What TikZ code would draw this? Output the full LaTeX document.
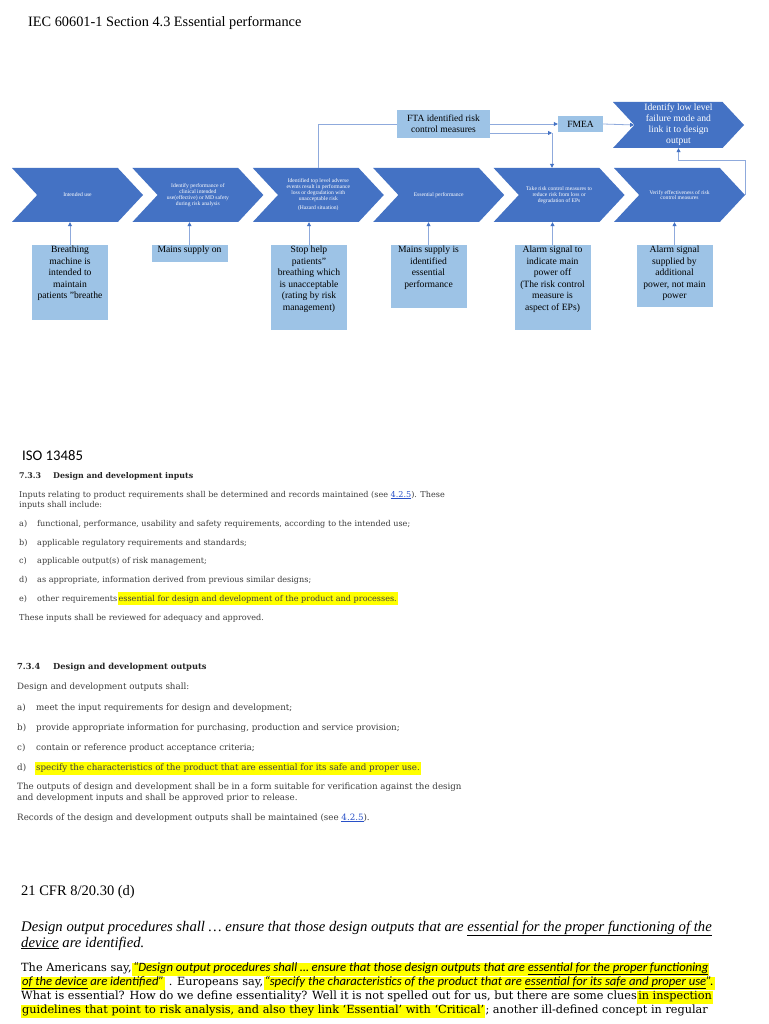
\documentclass[tikz,border=0pt]{standalone}
\usepackage{fontspec}
\setmainfont{Liberation Serif}
\newfontfamily\calibfont{Carlito}
\newfontfamily\camfont{DejaVu Serif}
\usetikzlibrary{arrows.meta,shapes.symbols}
\definecolor{epdark}{RGB}{68,114,196}
\definecolor{eplight}{RGB}{157,195,230}
\definecolor{epline}{RGB}{143,170,220}
\definecolor{hlyellow}{RGB}{255,255,0}
\definecolor{isotext}{RGB}{60,60,60}
\definecolor{isolink}{RGB}{40,80,200}
\newcommand{\boxtxt}[2]{\parbox[t][#1][t]{74pt}{\centering #2}}

\begin{document}
\begin{tikzpicture}[
    x=1pt, y=-1pt,
    >={Triangle[length=4pt, width=4pt, color=epdark]},
    link/.style={draw=epline, line width=0.8pt},
    chev/.style={signal, signal to=east, signal from=west, signal pointer angle=94,
      fill=epdark, text=white, inner sep=0pt, minimum width=131pt, minimum height=54pt,
      align=center, font=\fontsize{5.6}{5.8}\selectfont},
    ebox/.style={fill=eplight, inner sep=1pt, font=\fontsize{9.6}{11.5}\selectfont},
    txt/.style={anchor=base west, inner sep=0pt},
    iso/.style={txt, text=isotext, font=\camfont\fontsize{8.1}{10}\selectfont},
    isotwo/.style={txt, text=isotext, font=\camfont\fontsize{8.7}{11}\selectfont},
    isob/.style={txt, text=black!85, font=\camfont\bfseries\fontsize{7.9}{10}\selectfont},
    cfr/.style={txt, font=\camfont\fontsize{11.3}{14}\selectfont},
    cfri/.style={txt, font=\itshape\fontsize{14.7}{16}\selectfont},
    qt/.style={font=\calibfont\itshape\fontsize{12.7}{14}\selectfont},
    hl/.style={txt, fill=hlyellow, inner xsep=1pt, inner ysep=1.5pt, text height=7.5pt, text depth=2.5pt},
  ]
  \useasboundingbox[fill=white] (0,0) rectangle (768,1024);

  %% ---------------- title ----------------
  \node[txt, font=\fontsize{14.3}{16}\selectfont] (title) at (28,27)
    {IEC 60601-1 Section 4.3 Essential performance};

  %% ---------------- process chevrons ----------------
  \foreach \i/\txt in {1/{Intended use},
      2/{Identify performance of\\clinical intended\\use(effective) or MD safety\\during risk analysis},
      3/{Identified top level adverse\\events result in performance\\loss or degradation with\\unacceptable risk\\[4pt](Hazard situation)},
      4/{Essential performance},
      5/{Take risk control measures to\\reduce risk from loss or\\degradation of EPs},
      6/{Verify effectiveness of risk\\control measures}} {
    \node[chev] (c\i) at ({77.5+120.4*(\i-1)},195) {\txt};
  }
  \node[chev, minimum height=46pt, font=\fontsize{9.6}{11}\selectfont] (ident) at (678.5,125)
    {Identify low level\\failure mode and\\link it to design\\output};

  \node[ebox, align=center, minimum width=93pt, minimum height=28pt, font=\fontsize{9.5}{11}\selectfont] (fta) at (443.5,124)
    {FTA identified risk\\control measures};
  \node[ebox, minimum width=45pt, minimum height=16pt, font=\fontsize{9.5}{11}\selectfont] (fmea) at (580.5,124) {FMEA};

  %% ---------------- examples under each step ----------------
  \foreach \i/\x/\h/\txt in {1/70/73pt/{Breathing\\machine is\\intended to\\maintain\\patients ”breathe},
      2/189.5/15pt/{Mains supply on},
      3/309/83pt/{Stop help\\patients”\\breathing which\\is unacceptable\\(rating by risk\\management)},
      4/428.5/61pt/{Mains supply is\\identified\\essential\\performance},
      5/552.5/83pt/{Alarm signal to\\indicate main\\power off\\(The risk control\\measure is\\aspect of EPs)},
      6/674.5/60pt/{Alarm signal\\supplied by\\additional\\power, not main\\power}} {
    \node[ebox, anchor=north] (b\i) at (\x,245) {\boxtxt{\h}{\txt}};
    \draw[link,->] (b\i.north) -- (b\i.north |- c\i.south);
  }

  %% ---------------- links between the steps ----------------
  \draw[link] (c3.north) |- (fta.west);
  \draw[link,->] (fta.east) -- (fmea.west);
  \coordinate (tap) at (552,133);
  \draw[link,->] ([yshift=-9pt]fta.east) -- (tap);
  \draw[link,->] (tap) -- (tap |- c5.north);
  \draw[link,->] (fmea.east) -- (ident.west);
  \draw[link,->] (c6.east) -- ++(0,-35) -| (ident.south);

  %% ---------------- ISO 13485 ----------------
  \node[txt, font=\calibfont\fontsize{14.7}{16}\selectfont] (iso) at (22,460) {ISO 13485};
  \node[isob] (s733n) at (19,478) {7.3.3};
  \node[isob] (s733) at (53,478) {Design and development inputs};
  \node[iso] (in1) at (19,497)
    {Inputs relating to product requirements shall be determined and records maintained (see \textcolor{isolink}{\underline{4.2.5}}). These};
  \node[iso] (in2) at (19,507) {inputs shall include:};
  \foreach \y/\lbl/\txt in {526/a)/{functional, performance, usability and safety requirements, according to the intended use;},
      545/b)/{applicable regulatory requirements and standards;},
      563/c)/{applicable output(s) of risk management;},
      582/d)/{as appropriate, information derived from previous similar designs;}} {
    \node[iso] (il\y) at (19,\y) {\lbl};
    \node[iso] (it\y) at (37,\y) {\txt};
  }
  \node[iso] (il601) at (19,601) {e)};
  \node[iso] (it601) at (37,601) {other requirements\ };
  \node[iso, hl] (hl601) at (it601.base east)
    {essential for design and development of the product and processes.};
  \node[iso] (in3) at (19,620) {These inputs shall be reviewed for adequacy and approved.};

  \node[isob, font=\camfont\bfseries\fontsize{8.3}{10}\selectfont] (s734n) at (17,669) {7.3.4};
  \node[isob, font=\camfont\bfseries\fontsize{8.3}{10}\selectfont] (s734) at (53,669) {Design and development outputs};
  \node[isotwo] (out1) at (17,689) {Design and development outputs shall:};
  \foreach \y/\lbl/\txt in {710/a)/{meet the input requirements for design and development;},
      730/b)/{provide appropriate information for purchasing, production and service provision;},
      750/c)/{contain or reference product acceptance criteria;}} {
    \node[isotwo] (ol\y) at (17,\y) {\lbl};
    \node[isotwo] (ot\y) at (36,\y) {\txt};
  }
  \node[isotwo] (ol770) at (17,770) {d)};
  \node[isotwo, hl, text height=6.5pt, text depth=3.5pt] (oh770) at (35,770)
    {specify the characteristics of the product that are essential for its safe and proper use.};
  \node[isotwo] (out2) at (17,789)
    {The outputs of design and development shall be in a form suitable for verification against the design};
  \node[isotwo] (out3) at (17,800) {and development inputs and shall be approved prior to release.};
  \node[isotwo] (out4) at (17,820)
    {Records of the design and development outputs shall be maintained (see \textcolor{isolink}{\underline{4.2.5}}).};

  %% ---------------- 21 CFR ----------------
  \node[txt, font=\fontsize{14.5}{16}\selectfont] (cfrt) at (21,895) {21 CFR 8/20.30 (d)};
  \node[cfri] (q1) at (21,931)
    {Design output procedures shall … ensure that those design outputs that are \underline{essential for the proper functioning of the}};
  \node[cfri] (q2) at (21,947) {\underline{device} are identified.};

  \node[cfr] (p1a) at (21,971) {The Americans say,\ };
  \node[cfr, hl, qt, text height=6.5pt, text depth=3pt] (p1b) at (p1a.base east)
    {“Design output procedures shall … ensure that those design outputs that are \underline{essential for the proper functioning}};
  \node[cfr, hl, qt, text height=6.5pt, text depth=3pt] (p2a) at (21,985)
    {\underline{of the device} are identified”};
  \node[cfr] (p2b) at (p2a.base east) {\ . Europeans say,\ };
  \node[cfr, hl, qt, text height=6.5pt, text depth=3pt] (p2c) at (p2b.base east)
    {“specify the characteristics of the product that are \underline{essential for its safe and proper use}”.};
  \node[cfr] (p3a) at (21,999)
    {What is essential? How do we define essentiality? Well it is not spelled out for us, but there are some clues\ };
  \node[cfr, hl, text height=6.5pt, text depth=3pt] (p3b) at (p3a.base east) {in inspection};
  \node[cfr, hl, text height=6.5pt, text depth=3pt] (p4a) at (21,1013)
    {guidelines that point to risk analysis, and also they link ‘Essential’ with ‘Critical’};
  \node[cfr] (p4b) at (p4a.base east) {; another ill-defined concept in regular};

\end{tikzpicture}
\end{document}
